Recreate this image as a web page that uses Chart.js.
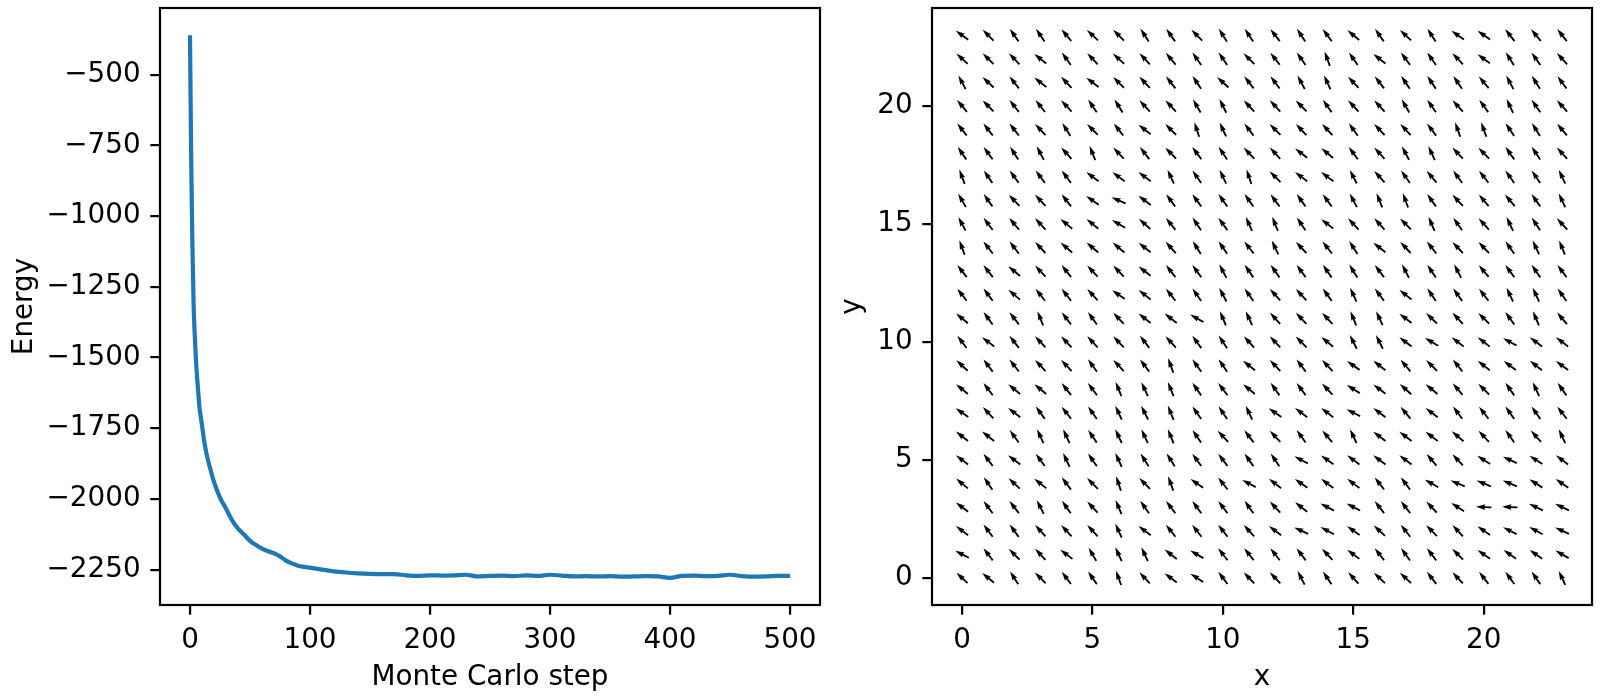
<!DOCTYPE html>
<html><head><meta charset="utf-8">
<script src="https://cdn.jsdelivr.net/npm/chart.js@4.4.1/dist/chart.umd.min.js"></script>
<style>
html,body{margin:0;padding:0;background:#fff;width:1600px;height:700px;overflow:hidden}
#c1{position:absolute;left:0;top:0}
#c2{position:absolute;left:830px;top:0}
</style></head><body>
<canvas id="c1" width="830" height="700"></canvas>
<canvas id="c2" width="770" height="700"></canvas>
<script>
// ---------- Left panel data: energy vs Monte Carlo step ----------
const mcSteps = [0,1,2,3,4,5,6,7,8,9,10,12,14,17,20,25,30,35,40,45,50,55,60,65,70,75,80,85,90,95,100,110,120,130,140,
  150,160,170,180,190,200,210,220,230,240,250,260,270,280,290,300,310,320,330,340,350,360,370,380,390,400,410,420,430,440,450,460,470,480,490,500];
const energy = [-360,-800,-1100,-1312,-1425,-1510,-1575,-1630,-1680,-1710,-1740,-1800,-1845,-1895,-1940,-1995,-2034,-2075,-2105,-2126,-2148,-2163,-2176,-2185,-2192,-2203,-2218,-2228,-2236,-2240,-2243,-2250,-2256,-2260,-2263,
  -2265,-2266,-2266,-2270,-2272,-2270,-2271,-2270,-2268,-2274,-2272,-2271,-2273,-2270,-2272,-2268,-2271,-2274,-2273,-2274,-2273,-2275,-2274,-2273,-2274,-2279,-2272,-2271,-2273,-2272,-2268,-2273,-2275,-2274,-2272,-2272];
const stepTicks = [0,100,200,300,400,500];
const energyTicks = [-500,-750,-1000,-1250,-1500,-1750,-2000,-2250];

// ---------- Right panel data: spin directions on 24x24 lattice ----------
const latticeX = [0,1,2,3,4,5,6,7,8,9,10,11,12,13,14,15,16,17,18,19,20,21,22,23];
const latticeY = [0,1,2,3,4,5,6,7,8,9,10,11,12,13,14,15,16,17,18,19,20,21,22,23];
const latticeTicks = [0,5,10,15,20];
// spin angle in degrees (counter-clockwise from +x); spinAngles[row y][column x], row 0 = bottom
const spinAngles = [
 [137,140,122,135,127,125,110,133,142,148,127,133,133,117,124,132,137,137,128,133,128,126,125,115],
 [153,127,135,133,143,120,115,115,142,150,128,128,128,127,133,143,128,126,127,135,145,145,145,150],
 [143,127,126,133,133,133,115,143,128,128,128,133,143,155,152,145,137,128,135,133,145,153,152,155],
 [143,127,128,117,125,133,113,125,127,126,127,125,133,142,152,153,128,128,133,147,178,178,155,155],
 [140,124,137,142,127,135,108,135,110,145,128,152,142,145,143,143,128,127,150,158,158,158,147,145],
 [143,127,143,126,115,125,115,122,122,126,127,125,124,152,145,143,143,143,130,133,147,155,147,143],
 [142,142,126,115,115,124,115,115,112,124,133,127,133,126,130,115,143,143,143,140,133,125,132,115],
 [145,133,143,126,128,125,115,117,112,125,124,115,145,143,142,153,143,130,143,127,128,125,125,128],
 [140,127,140,140,128,127,112,115,112,125,127,140,125,126,133,148,142,138,140,130,135,125,115,125],
 [137,127,128,133,133,126,133,127,110,126,124,142,133,127,133,145,142,130,135,128,142,143,142,143],
 [127,143,128,133,133,133,133,128,132,126,124,132,133,135,140,117,117,143,150,142,142,152,143,143],
 [140,126,128,112,127,126,133,142,142,151,113,115,132,133,133,112,115,143,135,133,135,126,113,130],
 [128,127,140,128,128,133,145,142,128,125,118,125,132,133,126,115,127,142,124,126,128,115,115,125],
 [128,128,140,133,128,133,133,142,128,126,118,125,125,126,125,122,127,117,124,117,130,126,125,127],
 [110,128,127,133,140,140,140,142,132,122,124,128,115,133,128,123,142,133,128,133,133,125,115,112],
 [118,127,130,133,140,140,150,138,128,124,126,114,112,124,142,133,132,135,113,125,132,115,123,133],
 [120,125,133,133,128,145,157,143,126,126,125,125,126,125,126,118,112,110,125,133,130,130,125,115],
 [110,124,126,127,127,143,143,143,115,125,116,108,135,143,143,117,132,125,130,126,128,125,124,115],
 [124,126,122,118,132,112,133,128,135,127,124,133,132,142,140,126,132,118,115,133,135,125,124,132],
 [128,128,128,133,122,135,128,142,135,108,115,127,135,133,133,125,133,133,127,110,110,124,122,130],
 [130,135,128,128,133,124,122,133,133,120,117,133,133,135,125,133,133,120,125,133,126,115,125,132],
 [118,137,128,142,133,143,135,133,128,124,138,128,127,118,115,133,128,124,124,124,130,118,122,126],
 [138,135,133,141,126,133,138,133,130,125,124,135,128,125,110,125,142,127,125,133,143,122,125,132],
 [144,135,125,124,130,137,135,123,125,135,122,124,128,123,127,140,125,137,123,145,145,128,130,128]
];

// ---------- styling ----------
const FONT = {family:"'DejaVu Sans', sans-serif", size:27.8};
Chart.defaults.font.family = FONT.family;
Chart.defaults.font.size = FONT.size;
Chart.defaults.color = '#000';

const TICK_LEN = 9.7, TICK_W = 2.2, SPINE_W = 2.2;
const fmt = v => (v < 0 ? '\u2212' + Math.abs(v) : String(v));

const framePlugin = {
  id:'frame',
  afterDraw(chart){
    const {ctx, chartArea:a} = chart;
    ctx.save(); ctx.strokeStyle = '#000'; ctx.lineWidth = SPINE_W;
    ctx.strokeRect(a.left, a.top, a.right - a.left, a.bottom - a.top);
    ctx.restore();
  }
};
function zeroPad(s){ s.paddingTop = 0; s.paddingBottom = 0; s.paddingLeft = 0; s.paddingRight = 0; }

function axis(opts){
  return Object.assign({
    type:'linear',
    border:{display:false},
    grid:{display:true, drawOnChartArea:false, drawTicks:true, tickLength:TICK_LEN, tickWidth:TICK_W, tickColor:'#000', lineWidth:TICK_W},
    ticks:{color:'#000', padding:9.7, autoSkip:false, maxRotation:0, minRotation:0, font:FONT, callback: v => fmt(v)}
  }, opts);
}

// ---------- left chart ----------
new Chart(document.getElementById('c1'), {
  type:'line',
  data:{datasets:[{
    data: mcSteps.map((s,i) => ({x:s, y:energy[i]})),
    borderColor:'#1f77b4', borderWidth:4.2, pointRadius:0, fill:false,
    cubicInterpolationMode:'monotone'
  }]},
  options:{
    responsive:false, animation:false, devicePixelRatio:1,
    layout:{padding:{left:0, right:10, top:8, bottom:0}},
    plugins:{legend:{display:false}, tooltip:{enabled:false}},
    scales:{
      x: axis({
        min:-25, max:525,
        afterBuildTicks: s => { s.ticks = stepTicks.map(v => ({value:v})); },
        afterFit: s => { s.height = 95; zeroPad(s); },
        title:{display:true, text:'Monte Carlo step', color:'#000', font:FONT, padding:{top:0, bottom:6}}
      }),
      y: axis({
        min:-2375, max:-264,
        afterBuildTicks: s => { s.ticks = energyTicks.map(v => ({value:v})); },
        afterFit: s => { s.width = 160; zeroPad(s); },
        title:{display:true, text:'Energy', color:'#000', font:FONT, padding:{top:8, bottom:0}}
      })
    }
  },
  plugins:[framePlugin]
});

// ---------- right chart (quiver) ----------
// quiver arrow geometry (pivot = middle), px
const ARROW = {L:15.3, w:1.85};
const spinPoints = [], spinRad = [];
latticeY.forEach((yy, j) => latticeX.forEach((xx, i) => {
  spinPoints.push({x:xx, y:yy});
  spinRad.push(spinAngles[j][i] * Math.PI / 180);
}));

const quiverPlugin = {
  id:'quiver',
  afterDatasetsDraw(chart){
    const meta = chart.getDatasetMeta(0);
    const ctx = chart.ctx;
    const L = ARROW.L, w = ARROW.w, hw = 3*w, hl = 5*w, hal = 4.5*w;
    const local = [[-L/2,-w/2],[L/2-hal,-w/2],[L/2-hl,-hw/2],[L/2,0],[L/2-hl,hw/2],[L/2-hal,w/2],[-L/2,w/2]];
    ctx.save();
    ctx.fillStyle = '#000';
    meta.data.forEach((pt, k) => {
      const th = spinRad[k];
      const dx = Math.cos(th), dy = -Math.sin(th);   // screen direction
      const nx = -dy, ny = dx;                        // perpendicular
      ctx.beginPath();
      local.forEach(([u,v], m) => {
        const X = pt.x + u*dx + v*nx, Y = pt.y + u*dy + v*ny;
        if (m === 0) ctx.moveTo(X, Y); else ctx.lineTo(X, Y);
      });
      ctx.closePath();
      ctx.fill();
    });
    ctx.restore();
  }
};

new Chart(document.getElementById('c2'), {
  type:'scatter',
  data:{datasets:[{
    data: spinPoints,
    pointRadius:0, pointHoverRadius:0
  }]},
  options:{
    responsive:false, animation:false, devicePixelRatio:1,
    layout:{padding:{left:0, right:8, top:8, bottom:0}},
    plugins:{legend:{display:false}, tooltip:{enabled:false}},
    scales:{
      x: axis({
        min:-1.15, max:24.15,
        afterBuildTicks: s => { s.ticks = latticeTicks.map(v => ({value:v})); },
        afterFit: s => { s.height = 95; zeroPad(s); },
        title:{display:true, text:'x', color:'#000', font:FONT, padding:{top:0, bottom:6}}
      }),
      y: axis({
        min:-1.15, max:24.15,
        afterBuildTicks: s => { s.ticks = latticeTicks.map(v => ({value:v})); },
        afterFit: s => { s.width = 102; zeroPad(s); },
        title:{display:true, text:'y', color:'#000', font:FONT, padding:{top:6, bottom:0}}
      })
    }
  },
  plugins:[framePlugin, quiverPlugin]
});
</script>
</body></html>
